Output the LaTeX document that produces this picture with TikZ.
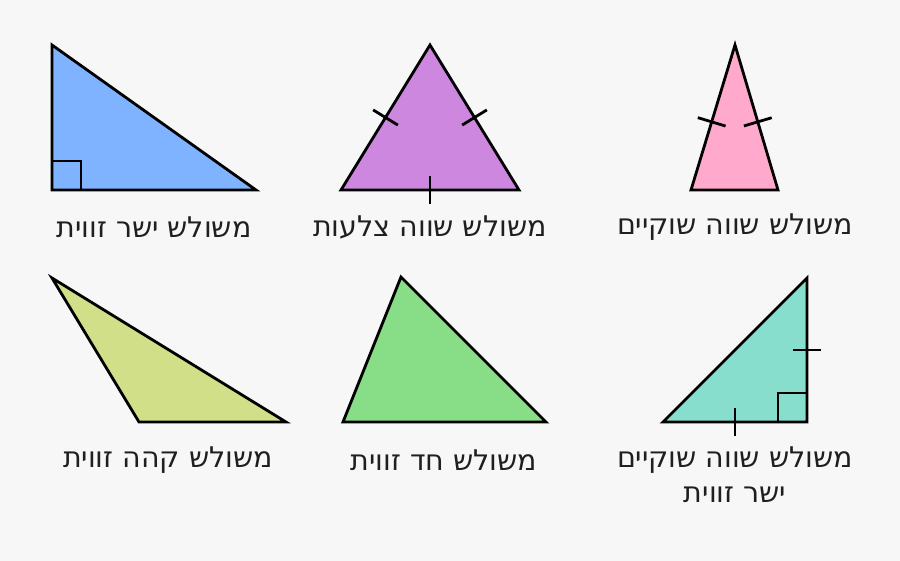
\documentclass[tikz,border=0pt]{standalone}
\usetikzlibrary{calc}
\usepackage{fontspec}
\newfontfamily\hebfont[Script=Hebrew]{DejaVu Sans}
\TeXXeTstate=1
\definecolor{bg}{HTML}{F7F7F7}
\definecolor{cblue}{HTML}{80B3FF}
\definecolor{cpurple}{HTML}{CD87DE}
\definecolor{cpink}{HTML}{FFAACC}
\definecolor{colive}{HTML}{D1DF88}
\definecolor{cgreen}{HTML}{87DE87}
\definecolor{cteal}{HTML}{87DECD}
\begin{document}
\begin{tikzpicture}[x=1pt,y=-1pt,
  tri/.style={draw=black,line width=2.8pt,line join=miter},
  mk/.style={draw=black,line width=2.8pt},
  lbl/.style={font=\hebfont\fontsize{28.5}{33}\selectfont,text=black!88,inner sep=0pt}]
\fill[bg] (0,0) rectangle (900,561);
\useasboundingbox (0,0) rectangle (900,561);
% 1 right triangle
\coordinate (a1) at (52,45); \coordinate (b1) at (52,190); \coordinate (c1) at (256,190);
\filldraw[tri,fill=cblue] (a1) -- (b1) -- (c1) -- cycle;
\draw[mk] (52,161) -- (81,161) -- (81,190);
\node[lbl] (l1) at (154,227) {\beginR משולש ישר זווית\endR};
% 2 equilateral
\coordinate (a2) at (430,45); \coordinate (b2) at (341,190); \coordinate (c2) at (519,190);
\filldraw[tri,fill=cpurple] (a2) -- (b2) -- (c2) -- cycle;
\draw[mk] ($(a2)!0.5!(b2)!14.5pt!90:(b2)$) -- ($(a2)!0.5!(b2)!14.5pt!-90:(b2)$);
\draw[mk] ($(a2)!0.5!(c2)!14.5pt!90:(c2)$) -- ($(a2)!0.5!(c2)!14.5pt!-90:(c2)$);
\draw[mk] (430,176) -- (430,204);
\node[lbl] (l2) at (430,227) {\beginR משולש שווה צלעות\endR};
% 3 isosceles
\coordinate (a3) at (735,45); \coordinate (b3) at (691,190); \coordinate (c3) at (778,190);
\filldraw[tri,fill=cpink] (a3) -- (b3) -- (c3) -- cycle;
\draw[mk] ($(a3)!0.53!(b3)!14.5pt!90:(b3)$) -- ($(a3)!0.53!(b3)!14.5pt!-90:(b3)$);
\draw[mk] ($(a3)!0.53!(c3)!14.5pt!90:(c3)$) -- ($(a3)!0.53!(c3)!14.5pt!-90:(c3)$);
\node[lbl] (l3) at (735,227) {\beginR משולש שווה שוקיים\endR};
% 4 obtuse
\coordinate (a4) at (52,278); \coordinate (b4) at (139,422); \coordinate (c4) at (286,422);
\filldraw[tri,fill=colive] (a4) -- (b4) -- (c4) -- cycle;
\node[lbl] (l4) at (168,460) {\beginR משולש קהה זווית\endR};
% 5 acute
\coordinate (a5) at (401,277); \coordinate (b5) at (343,422); \coordinate (c5) at (546,422);
\filldraw[tri,fill=cgreen] (a5) -- (b5) -- (c5) -- cycle;
\node[lbl] (l5) at (444,460) {\beginR משולש חד זווית\endR};
% 6 right isosceles
\coordinate (a6) at (807,278); \coordinate (b6) at (663,422); \coordinate (c6) at (807,422);
\filldraw[tri,fill=cteal] (a6) -- (b6) -- (c6) -- cycle;
\draw[mk] (778,422) -- (778,393) -- (807,393);
\draw[mk] (793,350) -- (821,350);
\draw[mk] (735,408) -- (735,436);
\node[lbl] (l6) at (735,460) {\beginR משולש שווה שוקיים\endR};
\node[lbl] (l6b) at (735,495) {\beginR ישר זווית\endR};
\end{tikzpicture}
\end{document}
